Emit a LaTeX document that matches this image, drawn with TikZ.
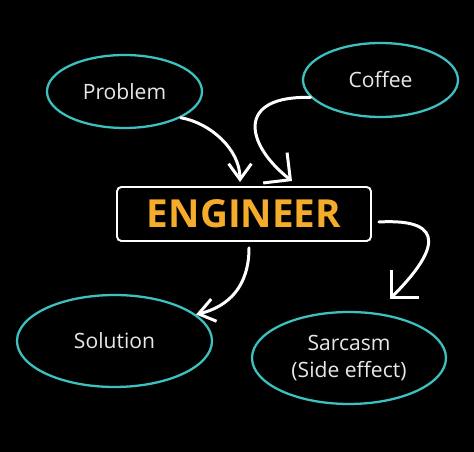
\documentclass[tikz,border=0pt]{standalone}
\usepackage{fontspec}
\setmainfont{Open Sans}
\usetikzlibrary{positioning}
\usetikzlibrary{shapes}
\usetikzlibrary{arrows.meta}

\definecolor{tealring}{RGB}{60,192,192}
\definecolor{engorange}{RGB}{245,172,42}
\definecolor{paletext}{RGB}{232,232,232}

\tikzset{
    idea/.style={ellipse, draw=tealring, line width=1.3pt, text=paletext,
        font=\fontsize{12}{15}\selectfont, align=center, inner sep=0pt},
    hub/.style={rectangle, rounded corners=2.5pt, draw=white, line width=1.1pt,
        text=engorange, font=\fontsize{22}{26}\selectfont\bfseries,
        minimum width=5.08cm, minimum height=1.08cm},
    flow/.style={white, line width=1.7pt, line cap=round,
        -{Straight Barb[length=9pt,width=13pt,line width=1.7pt]}},
    bigflow/.style={flow,
        -{Straight Barb[length=11pt,width=22pt,line width=1.7pt]}}
}

\begin{document}
\begin{tikzpicture}[x=0.02cm,y=-0.02cm]
    %draw background
    \fill[black] (0,0) rectangle (474,452);
    \useasboundingbox (0,0) rectangle (474,452);

    %draw nodes
    \node[hub] (engineer) at (244,214) {ENGINEER};
    \node[idea, minimum width=3.1cm, minimum height=1.46cm] (problem) at (124.5,91.5) {Problem};
    \node[idea, minimum width=3.1cm, minimum height=1.48cm] (coffee) at (380.5,80) {Coffee};
    \node[idea, minimum width=3.9cm, minimum height=1.84cm] (solution) at (114.5,341) {Solution};
    \node[idea, minimum width=3.88cm, minimum height=1.84cm] (sarcasm) at (349,358) {Sarcasm\\(Side effect)};

    %draw arrows
    \draw[flow] (problem.-25) .. controls +(29,5) and +(0,-33) .. ([xshift=-0.08cm,yshift=0.08cm]engineer.north);
    \draw[bigflow] (coffee.194) .. controls +(-75,-2) and +(-47,-37) .. ([xshift=0.96cm,yshift=0.1cm]engineer.north);
    \draw[flow] ([xshift=0.1cm,yshift=-0.12cm]engineer.south) .. controls +(0,38) and +(33,-8) .. (solution.18);
    \draw[bigflow] ([xshift=0.14cm,yshift=-0.16cm]engineer.east) .. controls +(72,-4) and +(45,-45) .. ([xshift=0.82cm,yshift=0.24cm]sarcasm.north);
\end{tikzpicture}
\end{document}
